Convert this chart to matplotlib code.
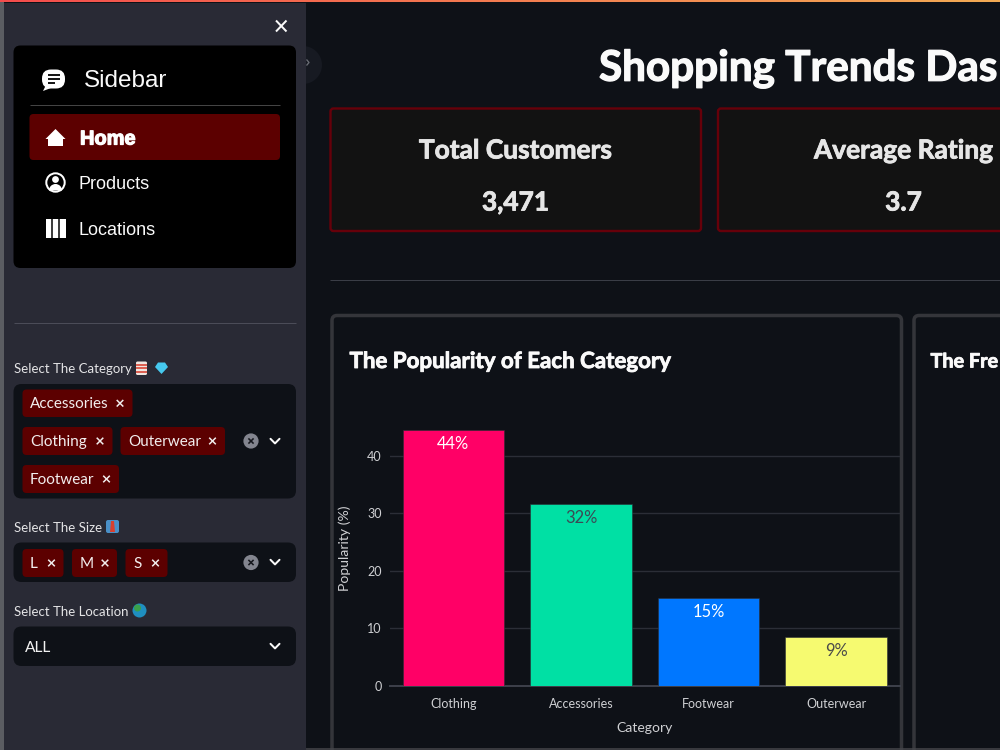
import numpy as np
import matplotlib
matplotlib.use("Agg")
import matplotlib.pyplot as plt
import matplotlib.patheffects as pe
from matplotlib.patches import FancyBboxPatch, Rectangle, Circle, Polygon, Wedge

# ---- data ----
categories = ["Clothing", "Accessories", "Footwear", "Outerwear"]
popularity = [44.4, 31.6, 15.3, 8.5]
bar_labels = ["44%", "32%", "15%", "9%"]
bar_colors = ["#ff0066", "#00e0a4", "#0077ff", "#f6fa70"]
label_colors = ["#ffffff", "#3b4a55", "#ffffff", "#4a4a4a"]
y_ticks = [0, 10, 20, 30, 40]
nav_items = ["Home", "Products", "Locations"]
cat_tags = ["Accessories", "Clothing", "Outerwear", "Footwear"]
size_tags = ["L", "M", "S"]
kpi_titles = ["Total Customers", "Average Rating"]
kpi_values = ["3,471", "3.7"]

BG = "#0e1117"
SIDE = "#292a35"
RED = "#5c0000"
FONT = "Lato"
ARIAL = "Liberation Sans"

def px(s):
    return s * 0.72

fig = plt.figure(figsize=(10, 7.5), dpi=100, facecolor=BG)
bg = fig.add_axes([0, 0, 1, 1], zorder=0)
bg.set_xlim(0, 1000)
bg.set_ylim(750, 0)
bg.axis("off")

def box(x0, y0, x1, y1, fc, ec="none", lw=0, r=0, z=1):
    if r > 0:
        p = FancyBboxPatch((x0, y0), x1 - x0, y1 - y0, boxstyle=f"round,pad=0,rounding_size={r}",
                           fc=fc, ec=ec, lw=px(lw), zorder=z)
    else:
        p = Rectangle((x0, y0), x1 - x0, y1 - y0, fc=fc, ec=ec, lw=px(lw), zorder=z)
    bg.add_patch(p)
    return p

def txt(x, y, s, size, color="#fafafa", ha="left", va="center", weight="normal", family=FONT, z=5, **kw):
    return bg.text(x, y, s, fontsize=px(size), color=color, ha=ha, va=va, fontweight=weight,
                   family=family, zorder=z, **kw)

def head(x, y, s, size, color="#fafafa", ha="left", stroke=0.6):
    return txt(x, y, s, size, color=color, ha=ha, weight="bold",
               path_effects=[pe.withStroke(linewidth=stroke, foreground=color)])

def line(xs, ys, color, lw, z=4, **kw):
    bg.plot(xs, ys, color=color, lw=px(lw), zorder=z, solid_capstyle=kw.pop("cap", "butt"), **kw)

def chevron(cx, cy, color="#fafafa"):
    line([cx - 4.5, cx, cx + 4.5], [cy - 2.2, cy + 2.4, cy - 2.2], color, 2, z=6, cap="round")

def clear_icon(cx, cy):
    bg.add_patch(Circle((cx, cy), 7.6, fc="#83858f", ec="none", zorder=5))
    d = 2.6
    line([cx - d, cx + d], [cy - d, cy + d], "#15171d", 1.6, z=6)
    line([cx - d, cx + d], [cy + d, cy - d], "#15171d", 1.6, z=6)

def tag(x0, x1, y0, y1, s, xpos):
    box(x0, y0, x1, y1, RED, r=4, z=3)
    ym = (y0 + y1) / 2
    txt(x0 + 7.5, ym + 1, s, 15.2, color="#f2eeee")
    d = 3.3
    line([xpos - d, xpos + d], [ym - d, ym + d], "#f2eeee", 1.5, z=6)
    line([xpos - d, xpos + d], [ym + d, ym - d], "#f2eeee", 1.5, z=6)

# ---- frame: top gradient, left strip, sidebar ----
grad = np.linspace(0, 1, 256).reshape(1, -1, 1)
c0, c1 = np.array([0.96, 0.30, 0.30]), np.array([0.95, 0.67, 0.33])
bg.imshow(c0 + (c1 - c0) * grad, extent=(0, 1000, 2.5, 0), aspect="auto", zorder=8)
bg.set_xlim(0, 1000)
bg.set_ylim(750, 0)

# collapse button peeking from under the sidebar
bg.add_patch(Circle((303, 65), 19, fc="#171a22", ec="none", zorder=0.5))
line([306.5, 309, 306.5], [59.5, 62.5, 65.5], "#6b6e76", 1.3, z=1)

box(4, 2.5, 306, 750, SIDE, z=1)
box(0, 0, 4, 750, "#5b5d62", z=1.5)
line([276, 286.5], [20.5, 31.5], "#fafafa", 2, z=5)
line([276, 286.5], [31.5, 20.5], "#fafafa", 2, z=5)

# navigation panel
box(13.5, 45.5, 296, 268, "#000000", r=7, z=2)
bg.add_patch(FancyBboxPatch((42, 69.5), 23, 19, boxstyle="round,pad=0,rounding_size=9", fc="#ffffff", ec="none", zorder=5))
bg.add_patch(Polygon([[46, 85], [43, 91], [51, 88]], fc="#ffffff", ec="none", zorder=5))
for yy, xe in zip([74.5, 78.5, 82.5], [60, 60, 55]):
    line([47.5, xe], [yy, yy], "#000000", 1.8, z=6)
txt(84, 81, "Sidebar", 24.3, family=ARIAL)
line([29.5, 280], [105, 105], "#444444", 1, z=4)
box(29.5, 114, 280, 160, RED, r=4, z=3)
# house icon
bg.add_patch(Polygon([[45.5, 139], [55.5, 129], [65.5, 139]], fc="#ffffff", ec="none", zorder=5))
bg.add_patch(Rectangle((48, 138), 15, 8, fc="#ffffff", ec="none", zorder=5))
txt(80, 139, nav_items[0], 20, weight="bold", family=ARIAL, color="#ffffff",
    path_effects=[pe.withStroke(linewidth=0.9, foreground="#ffffff")])
# person icon
bg.add_patch(Circle((55.5, 182.5), 9.2, fc="none", ec="#ffffff", lw=px(2), zorder=5))
bg.add_patch(Circle((55.5, 179.5), 3.4, fc="#ffffff", ec="none", zorder=5))
bg.add_patch(Wedge((55.5, 190.5), 6.5, 180, 360, fc="#ffffff", ec="none", zorder=5))
txt(79, 184.5, nav_items[1], 18, family=ARIAL)
# map icon
bg.add_patch(Rectangle((45.5, 218.5), 20, 19, fc="#ffffff", ec="none", zorder=5))
line([52, 52], [219, 238], "#000000", 1.5, z=6)
line([59, 59], [219, 238], "#000000", 1.5, z=6)
txt(79, 230.5, nav_items[2], 18, family=ARIAL)

line([13.5, 296], [323, 323], "#4b4c58", 1, z=4)

# category filter
lab = "#e4e4e6"
txt(14, 369, "Select The Category", 13.3, color=lab)
box(136, 361.5, 147, 375, "#f0e6e0", r=1.5, z=5)
for yy in [364.5, 368, 371.5]:
    line([136, 147], [yy, yy], "#d8402f", 1.6, z=6)
bg.add_patch(Polygon([[155, 367], [158, 362.5], [165, 362.5], [168, 367], [161.5, 374]], fc="#46c8ee", ec="none", zorder=5))
box(13.5, 384, 296, 498.5, BG, r=8, z=2)
tag(22.5, 132.5, 389.5, 417, cat_tags[0], 120)
tag(22.5, 112.5, 427, 455, cat_tags[1], 100)
tag(120.5, 225, 427, 455, cat_tags[2], 212.5)
tag(22.5, 119, 465, 493, cat_tags[3], 106.5)
clear_icon(251, 441)
chevron(275, 441)

# size filter
txt(14, 527.5, "Select The Size", 13.3, color=lab)
box(106, 520, 119, 533, "#4a90c8", r=2, z=5)
bg.add_patch(Polygon([[111, 521], [114, 521], [115, 532], [110, 532]], fc="#d8402f", ec="none", zorder=6))
box(13.5, 542.5, 296, 582, BG, r=8, z=2)
tag(22.5, 63.5, 549, 577, size_tags[0], 51.5)
tag(72, 117, 549, 577, size_tags[1], 105)
tag(125.5, 167.5, 549, 577, size_tags[2], 155.5)
clear_icon(251, 562.5)
chevron(275, 562)

# location filter
txt(14, 611.5, "Select The Location", 13.3, color=lab)
bg.add_patch(Circle((139.5, 610.5), 7, fc="#1f8fc0", ec="none", zorder=5))
bg.add_patch(Circle((137.5, 608), 3.5, fc="#3aa04a", ec="none", zorder=6))
box(13.5, 626.5, 296, 666, BG, r=8, z=2)
txt(24.5, 647.5, "ALL", 15.5, color="#f2f2f2")
chevron(275, 646)

# ---- main area ----
head(599, 69, "Shopping Trends Das", 42.2, stroke=0.9)
for x0, x1, title, val in zip([330.5, 718], [701, 1012], kpi_titles, kpi_values):
    box(x0, 108.5, x1, 231, "#121212", ec="#66000a", lw=2.4, r=3, z=2)
for cx, title, val in zip([515.5, 903.5], kpi_titles, kpi_values):
    head(cx, 150.5, title, 26.3, color="#e6e6e6", ha="center")
    head(cx, 202.5, val, 26.3, color="#e6e6e6", ha="center")
line([330, 1000], [280, 280], "#3a3d46", 1, z=2)

box(332, 315.5, 901.5, 775, BG, ec="#34353a", lw=3.5, r=5, z=2)
box(914, 315.5, 1020, 775, BG, ec="#34353a", lw=3.5, r=5, z=2)
head(349.5, 361.5, "The Popularity of Each Category", 22.3)
head(930.5, 361.5, "The Fre", 19.8)
line([306, 1000], [749.3, 749.3], "#46474c", 1.5, z=3)

# ---- chart ----
L, R, T, B = 389.6, 899.5, 417.0, 685.7
ax = fig.add_axes([L / 1000, 1 - B / 750, (R - L) / 1000, (B - T) / 750], zorder=2)
ax.patch.set_alpha(0)
x = np.arange(len(categories))
ax.set_xlim(-0.5, 3.5 - 0.004)
ax.set_ylim(0, 46.7)
ax.bar(x, popularity, width=0.795, color=bar_colors, edgecolor="#2a2d35", linewidth=0.4, zorder=3)
for xi, v, s, c in zip(x, popularity, bar_labels, label_colors):
    ax.annotate(s, (xi, v), xytext=(0, -14 * 0.72), textcoords="offset points", ha="center", va="center",
                color=c, fontsize=px(16.5), family=FONT, zorder=4)
ax.set_yticks(y_ticks)
ax.set_xticks(x, categories)
ax.set_axisbelow(True)
ax.grid(axis="y", color="#2b2e37", lw=px(1.4))
ax.grid(axis="x", visible=False)
for name, sp in ax.spines.items():
    sp.set_visible(name == "bottom")
ax.spines["bottom"].set_color("#3c3f49")
ax.spines["bottom"].set_linewidth(px(2))
ax.tick_params(axis="both", length=0, colors="#cfd0d3", labelsize=px(12.5))
ax.tick_params(axis="x", pad=px(12))
ax.tick_params(axis="y", pad=px(8))
for lb in ax.get_xticklabels() + ax.get_yticklabels():
    lb.set_family(FONT)
ax.set_xlabel("Category", fontsize=px(14), color="#cfd0d3", family=FONT)
ax.xaxis.set_label_coords((645 - L) / (R - L), (B - 722) / (B - T))
ax.set_ylabel("Popularity (%)", fontsize=px(14), color="#cfd0d3", family=FONT)
ax.yaxis.set_label_coords((351 - L) / (R - L), (B - 548) / (B - T))

fig.savefig("out.png", dpi=100, facecolor=BG)
